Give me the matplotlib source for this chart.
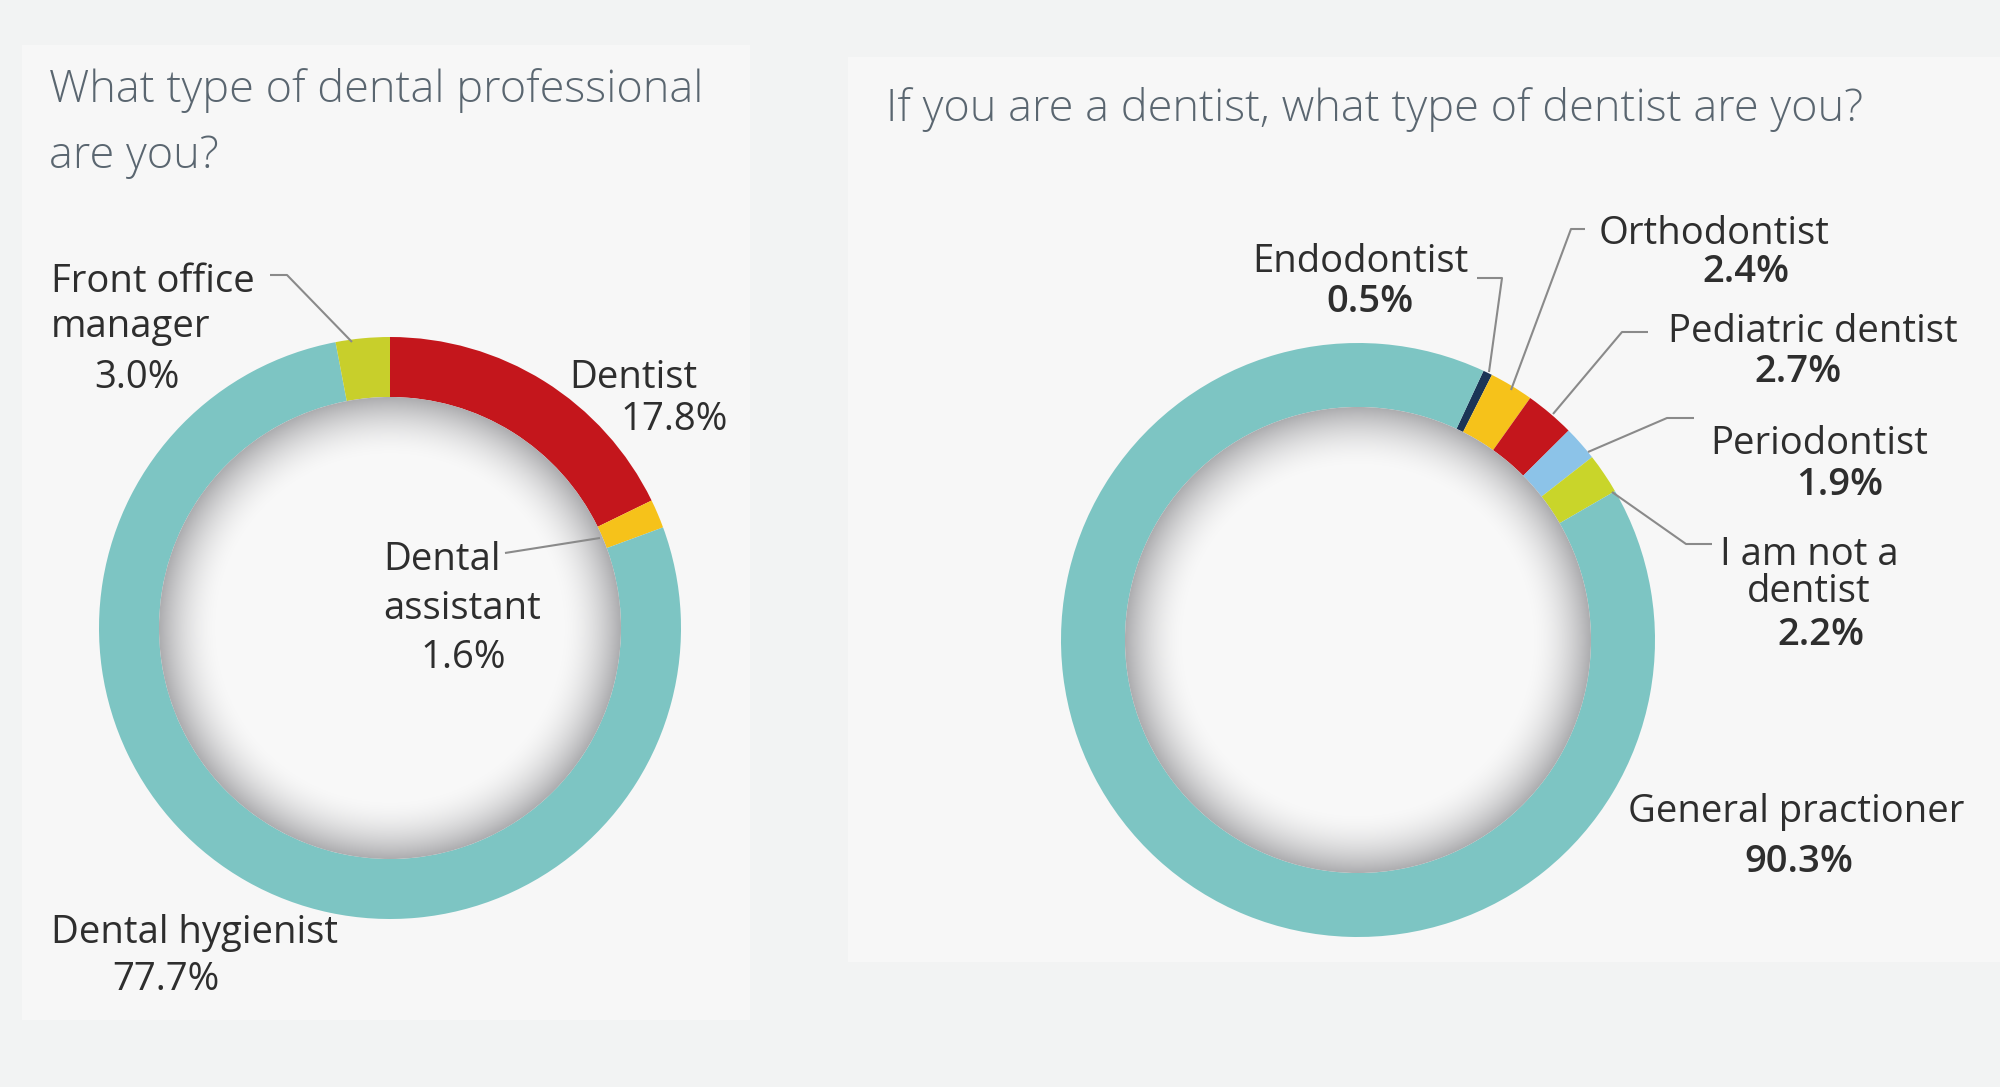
import numpy as np
import matplotlib
matplotlib.use("Agg")
import matplotlib.pyplot as plt
from matplotlib.patches import Circle, Rectangle

# ---------------- data ----------------
left_title = ["What type of dental professional", "are you?"]
left_labels = ["Dentist", "Dental assistant", "Dental hygienist", "Front office manager"]
left_values = [17.8, 1.6, 77.7, 3.0]
left_colors = ["#C4161C", "#F6C21A", "#7DC5C3", "#C8CF2B"]

right_title = "If you are a dentist, what type of dentist are you?"
right_labels = ["Endodontist", "Orthodontist", "Pediatric dentist", "Periodontist",
                "I am not a dentist", "General practioner"]
right_values = [0.5, 2.4, 2.7, 1.9, 2.2, 90.3]
right_colors = ["#1B3556", "#F6C21A", "#C4161C", "#8CC3E8", "#C9D52A", "#7DC5C3"]

W, H = 2000, 1087
plt.rcParams['font.family'] = ['Open Sans', 'DejaVu Sans']

fig = plt.figure(figsize=(20, 10.87), dpi=100)
fig.patch.set_facecolor("#F2F3F3")
ax = fig.add_axes([0, 0, 1, 1])

def Y(y):
    return H - y

# panels
ax.add_patch(Rectangle((22, Y(1020)), 728, 975, facecolor="#F7F7F7", edgecolor="none", zorder=0))
ax.add_patch(Rectangle((848, Y(962)), 1152, 905, facecolor="#F7F7F7", edgecolor="none", zorder=0))

def donut(values, colors, center, r_out, r_in, startangle):
    ax.pie(values, colors=colors, startangle=startangle, counterclock=False,
           radius=r_out, center=center, frame=True,
           wedgeprops=dict(width=r_out - r_in, linewidth=0))
    # inner shading
    n = 400
    xs = np.linspace(-1, 1, n)
    XX, YY = np.meshgrid(xs, xs)
    d = np.sqrt(XX**2 + YY**2)
    t = np.clip((d - 0.74) / 0.26, 0, 1) ** 1.8
    c0 = np.array([0.975, 0.975, 0.975])
    c1 = np.array([0.68, 0.68, 0.69])
    img = (1 - t)[..., None] * c0 + t[..., None] * c1
    im = ax.imshow(img, extent=[center[0] - r_in, center[0] + r_in,
                                center[1] - r_in, center[1] + r_in],
                   origin="lower", zorder=3, interpolation="bilinear")
    clip = Circle(center, r_in, transform=ax.transData, facecolor="none", edgecolor="none")
    ax.add_patch(clip)
    im.set_clip_path(clip)

donut(left_values, left_colors, (390, Y(628)), 291, 231, 90)
donut(right_values, right_colors, (1358, Y(640)), 297, 233, 90 - 25)

ax.set_xlim(0, W)
ax.set_ylim(0, H)
ax.set_aspect("equal")
ax.axis("off")

title_c = "#5A6670"
lab_c = "#2E2E2E"
TS = 32.5
LS = 27.5

# titles
ax.text(49, Y(102), left_title[0], fontsize=TS, color=title_c, ha="left", va="baseline",
        fontweight="light")
ax.text(49, Y(168), left_title[1], fontsize=TS, color=title_c, ha="left", va="baseline",
        fontweight="light")
ax.text(886, Y(121), right_title, fontsize=TS, color=title_c, ha="left", va="baseline",
        fontweight="light")

def lab(x, y, s, ha="center", bold=False):
    ax.text(x, Y(y), s, fontsize=LS, color=lab_c, ha=ha, va="baseline",
            fontweight="semibold" if bold else "normal", zorder=5)

def leader(pts):
    xs = [p[0] for p in pts]
    ys = [Y(p[1]) for p in pts]
    ax.plot(xs, ys, color="#8A8A8A", lw=1.5, zorder=4, solid_capstyle="butt")

# left labels
lab(51, 292, "Front office", ha="left")
lab(51, 337, "manager", ha="left")
lab(137, 388, f"{left_values[3]:.1f}%")
leader([(270, 275), (287, 275), (352, 342)])

lab(569, 388, "Dentist", ha="left")
lab(620, 430, f"{left_values[0]:.1f}%", ha="left")

lab(383, 570, "Dental", ha="left")
lab(383, 619, "assistant", ha="left")
lab(463, 668, f"{left_values[1]:.1f}%")
leader([(505, 553), (600, 538)])

lab(51, 943, "Dental hygienist", ha="left")
lab(166, 990, f"{left_values[2]:.1f}%")

# right labels
lab(1360, 272, "Endodontist")
lab(1370, 312, f"{right_values[0]:.1f}%", bold=True)
leader([(1477, 278), (1502, 278), (1489, 372)])

lab(1714, 244, "Orthodontist")
lab(1746, 282, f"{right_values[1]:.1f}%", bold=True)
leader([(1585, 229), (1571, 229), (1511, 390)])

lab(1813, 342, "Pediatric dentist")
lab(1798, 382, f"{right_values[2]:.1f}%", bold=True)
leader([(1648, 332), (1622, 332), (1553, 414)])

lab(1819, 454, "Periodontist")
lab(1840, 495, f"{right_values[3]:.1f}%", bold=True)
leader([(1694, 418), (1667, 418), (1588, 452)])

lab(1809, 565, "I am not a")
lab(1809, 602, "dentist")
lab(1821, 645, f"{right_values[4]:.1f}%", bold=True)
leader([(1612, 492), (1686, 544), (1712, 544)])

lab(1796, 822, "General practioner")
lab(1799, 872, f"{right_values[5]:.1f}%", bold=True)

fig.savefig("out.png", dpi=100, facecolor=fig.get_facecolor())
